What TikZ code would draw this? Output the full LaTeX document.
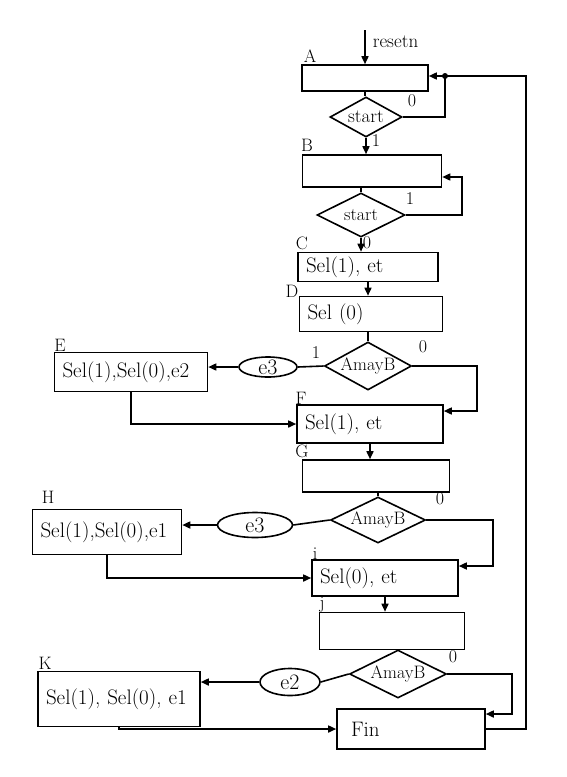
\documentclass[tikz,border=0pt]{standalone}
\usepackage{fontspec}
\setmainfont{Latin Modern Roman}
\usetikzlibrary{shapes.geometric,arrows.meta}
\begin{document}
\begin{tikzpicture}[x=1pt,y=-1pt,
  line width=1.6pt,
  box/.style={draw, rectangle, inner xsep=8pt, inner ysep=0pt, align=left,
    font=\fontsize{21}{23}\selectfont},
  dia/.style={draw, diamond, inner sep=-6pt, shape aspect=2,
    font=\fontsize{18}{20}\selectfont},
  ell/.style={draw, ellipse, inner sep=-5pt, font=\fontsize{22}{24}\selectfont},
  lab/.style={font=\fontsize{18}{20}\selectfont, inner sep=1pt},
  arr/.style={-{Triangle[length=8pt,width=7pt]}}]
\useasboundingbox (0,0) rectangle (566,777);
\fill[white] (0,0) rectangle (566,777);

% state boxes
\node[box, text width=110pt, minimum height=26pt] (A) at (365,78) {};
\node[box, text width=123pt, minimum height=32pt] (B) at (372,171) {};
\node[box, text width=124pt, minimum height=29pt] (C) at (368,267) {Sel(1), et};
\node[box, text width=127pt, minimum height=35pt] (D) at (371,314) {Sel (0)};
\node[box, text width=137pt, minimum height=39pt] (E) at (131,372) {Sel(1),Sel(0),e2};
\node[box, text width=130pt, minimum height=38pt] (F) at (370,424) {Sel(1), et};
\node[box, text width=131pt, minimum height=32pt] (G) at (376,476) {};
\node[box, text width=133pt, minimum height=45pt] (H) at (107,532) {Sel(1),Sel(0),e1};
\node[box, text width=130pt, minimum height=36pt] (I) at (385,578) {Sel(0), et};
\node[box, text width=129pt, minimum height=37pt] (J) at (392,631) {};
\node[box, text width=146pt, minimum height=55pt] (K) at (119,699) {Sel(1), Sel(0), e1};
\node[box, text width=132pt, minimum height=40pt] (Fin) at (411,729) {\hspace{6pt}Fin};

% decisions
\node[dia, minimum width=72pt, minimum height=40pt, font=\fontsize{19}{21}\selectfont] (d1) at (366,117) {start};
\node[dia, minimum width=88pt, minimum height=44pt] (d2) at (361,215) {start};
\node[dia, minimum width=87pt, minimum height=48pt] (d3) at (368,366) {AmayB};
\node[dia, minimum width=95pt, minimum height=46pt] (d4) at (378,520) {AmayB};
\node[dia, minimum width=97pt, minimum height=48pt] (d5) at (398,674) {AmayB};

% conditional outputs
\node[ell, minimum width=58pt, minimum height=20pt] (o1) at (268,367) {e3};
\node[ell, minimum width=75pt, minimum height=25pt] (o2) at (255,525) {e3};
\node[ell, minimum width=60pt, minimum height=27pt] (o3) at (290,682) {e2};

% state labels
\node[lab] (lA) at (310,56) {A};
\node[lab] (lB) at (307,145) {B};
\node[lab] (lC) at (302,243) {C};
\node[lab] (lD) at (292,291) {D};
\node[lab] (lE) at (60,345) {E};
\node[lab] (lF) at (301,398) {F};
\node[lab] (lG) at (302,451) {G};
\node[lab] (lH) at (48,497) {H};
\node[lab] (lI) at (315,554) {i};
\node[lab] (lJ) at (322,605) {j};
\node[lab] (lK) at (45,663) {K};
\node[lab, anchor=west, font=\fontsize{19}{21}\selectfont] (lr) at (371,42) {resetn};

% branch labels
\node[lab] (b1) at (412,101) {0};
\node[lab] (b2) at (376,141) {1};
\node[lab] (b3) at (410,199) {1};
\node[lab] (b4) at (367,243) {0};
\node[lab] (b5) at (316,353) {1};
\node[lab] (b6) at (423,347) {0};
\node[lab] (b7) at (440,499) {0};
\node[lab] (b8) at (453,657) {0};

% reset entry
\coordinate (rs) at (365,30);
\draw[arr] (rs) -- (A.north);

% vertical flow
\draw (A.south) -- (A.south |- d1.north);
\draw[arr] (d1.south) -- (d1.south |- B.north);
\draw (d2.north |- B.south) -- (d2.north);
\draw[arr] (d2.south) -- (d2.south |- C.north);
\draw[arr] (C.south) -- (C.south |- D.north);
\draw (d3.north |- D.south) -- (d3.north);
\draw[arr] (F.south) -- (F.south |- G.north);
\draw (d4.north |- G.south) -- (d4.north);
\draw[arr] (I.south) -- (I.south |- J.north);
\draw (d5.north |- J.south) -- (d5.north);

% junction dot and loops
\coordinate (dot) at (445,76);
\draw (d1.east) -| (dot);
\draw[arr] (dot) -- (dot -| A.east);
\fill (dot) circle (3pt);

\coordinate (r2) at (462,177);
\draw[arr] (d2.east) -| (r2) -- (r2 -| B.east);
\coordinate (r3) at (477,411);
\draw[arr] (d3.east) -| (r3) -- (r3 -| F.east);
\coordinate (r4) at (493,566);
\draw[arr] (d4.east) -| (r4) -- (r4 -| I.east);
\coordinate (r5) at (512,714);
\draw[arr] (d5.east) -| (r5) -- (r5 -| Fin.east);

% big return loop from Fin to A
\draw (Fin.east) -- ++(40,0) |- (dot);

% left branches
\draw (d3.west) -- (o1.east);
\draw[arr] (o1.west) -- (o1.west -| E.east);
\draw[arr] (E.south) |- (F.west);

\draw (d4.west) -- (o2.east);
\draw[arr] (o2.west) -- (o2.west -| H.east);
\draw[arr] (H.south) |- (I.west);

\draw (d5.west) -- (o3.east);
\draw[arr] (o3.west) -- (o3.west -| K.east);
\draw[arr] (K.south) |- (Fin.west);
\end{tikzpicture}
\end{document}
